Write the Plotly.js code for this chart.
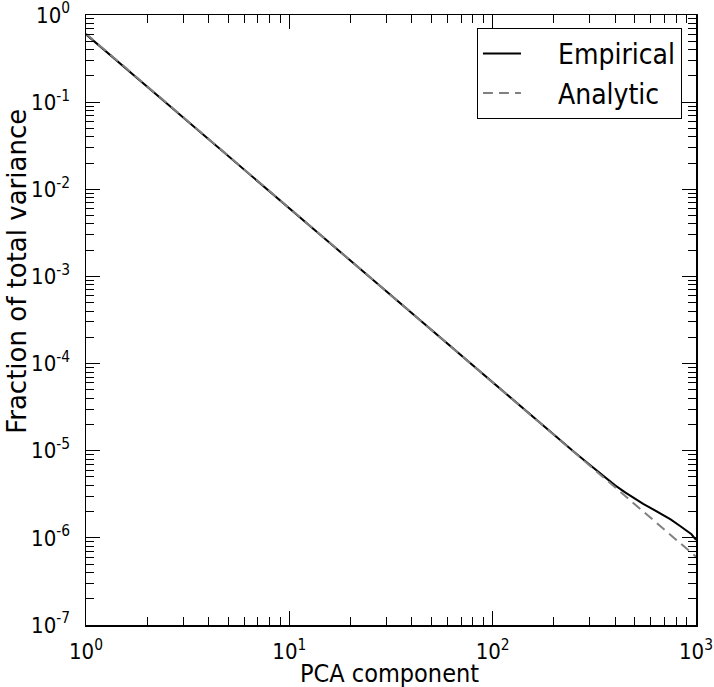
<!DOCTYPE html>
<html>
<head>
<meta charset="utf-8">
<script src="https://cdn.plot.ly/plotly-3.0.1.min.js"></script>
<style>html,body{margin:0;padding:0;background:#fff;}#chart{width:714px;height:687px;}</style>
</head>
<body>
<div id="chart"></div>
<script>
// Data
var empiricalX = [1, 2, 3, 4, 5, 7, 10, 15, 20, 30, 40, 50, 70, 100, 150, 200, 250, 300, 350, 400, 450, 500, 550, 600, 666, 750, 835, 900, 950, 1000];
var empiricalY = [0.600, 0.150, 0.068, 0.0375, 0.0245, 0.0123, 0.0061, 0.00268, 0.00150, 6.8e-4, 3.78e-4, 2.44e-4, 1.23e-4, 6.1e-5, 2.68e-5, 1.50e-5, 9.8e-6, 6.9e-6, 5.1e-6, 4.0e-6, 3.3e-6, 2.8e-6, 2.45e-6, 2.2e-6, 1.93e-6, 1.63e-6, 1.37e-6, 1.2e-6, 1.1e-6, 0.95e-6];
var analyticX = [1, 10, 100, 1000];
var analyticY = [0.608, 6.08e-3, 6.08e-5, 6.08e-7];

var xTickVals = [1, 10, 100, 1000];
var xTickText = ['10<sup>0</sup>', '10<sup>1</sup>', '10<sup>2</sup>', '10<sup>3</sup>'];
var yTickVals = [1e-7, 1e-6, 1e-5, 1e-4, 1e-3, 1e-2, 1e-1, 1];
var yTickText = ['10<sup>-7</sup>', '10<sup>-6</sup>', '10<sup>-5</sup>', '10<sup>-4</sup>', '10<sup>-3</sup>', '10<sup>-2</sup>', '10<sup>-1</sup>', '10<sup>0</sup>'];
var xTitle = 'PCA component';
var yTitle = 'Fraction of total variance';
var seriesNames = ['Empirical', 'Analytic'];

function minorTicks(lo, hi) {
  var out = [];
  for (var d = lo; d < hi; d++) {
    for (var m = 2; m <= 9; m++) out.push(m * Math.pow(10, d));
  }
  return out;
}

var FONT = 'DejaVu Sans, sans-serif';
var FONTC = 'DejaVu Sans Condensed, Liberation Sans Narrow, DejaVu Sans, sans-serif';
var PAD = '\u00a0\u00a0\u00a0\u00a0';

var traces = [
  {
    x: empiricalX, y: empiricalY, name: PAD + seriesNames[0], type: 'scatter', mode: 'lines',
    line: {color: '#000000', width: 2}
  },
  {
    x: analyticX, y: analyticY, name: PAD + seriesNames[1], type: 'scatter', mode: 'lines',
    line: {color: '#808080', width: 2, dash: '10px,6px'}
  }
];

var axisCommon = {
  type: 'log',
  showgrid: false,
  zeroline: false,
  showline: true,
  linecolor: '#000',
  linewidth: 1.5,
  mirror: 'allticks',
  ticks: 'inside',
  ticklen: 14,
  tickwidth: 1,
  tickcolor: '#000',
  tickmode: 'array',
  ticklabeloverflow: 'allow',
  tickfont: {family: FONTC, size: 22, color: '#000'}
};

var layout = {
  width: 714,
  height: 687,
  margin: {l: 86, r: 18, t: 15, b: 62},
  paper_bgcolor: '#fff',
  plot_bgcolor: '#fff',
  showlegend: true,
  legend: {
    x: 0.977, y: 0.979, xanchor: 'right', yanchor: 'top',
    bgcolor: '#fff', bordercolor: '#000', borderwidth: 1,
    itemwidth: 38,
    font: {family: FONTC, size: 28, color: '#000'}
  },
  xaxis: Object.assign({}, axisCommon, {
    range: [0, 3],
    tickvals: xTickVals,
    ticktext: xTickText,
    ticklabelstandoff: 6,
    minor: {tickvals: minorTicks(0, 3), ticks: 'inside', ticklen: 8, tickwidth: 1, tickcolor: '#000'}
  }),
  yaxis: Object.assign({}, axisCommon, {
    range: [-7, 0],
    tickvals: yTickVals,
    ticktext: yTickText,
    ticklabelstandoff: 10,
    minor: {tickvals: minorTicks(-7, 0), ticks: 'inside', ticklen: 8, tickwidth: 1, tickcolor: '#000'}
  }),
  annotations: [
    {
      text: xTitle, xref: 'paper', yref: 'paper', x: 0.497, y: -0.0803,
      xanchor: 'center', yanchor: 'middle', showarrow: false,
      font: {family: FONTC, size: 25, color: '#000'}
    },
    {
      text: yTitle, xref: 'paper', yref: 'paper', x: -0.1131, y: 0.579,
      xanchor: 'center', yanchor: 'middle', showarrow: false, textangle: -90,
      font: {family: FONT, size: 26, color: '#000'}
    }
  ]
};

Plotly.newPlot('chart', traces, layout, {displayModeBar: false, staticPlot: true});
</script>
</body>
</html>
